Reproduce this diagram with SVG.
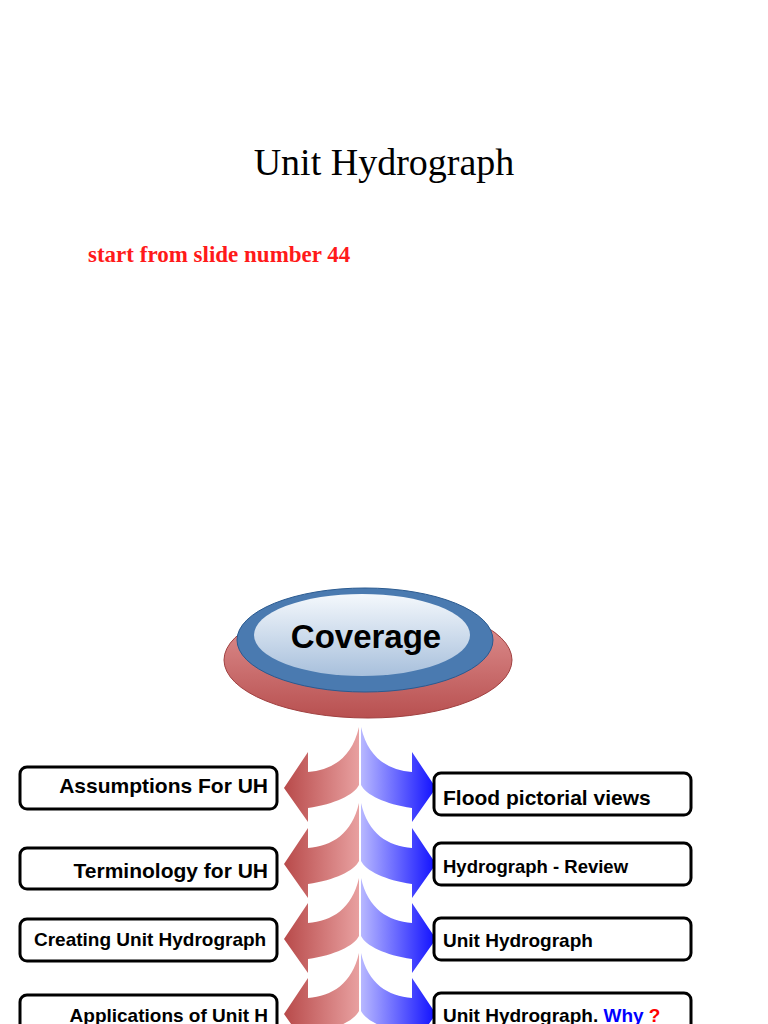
<svg xmlns="http://www.w3.org/2000/svg" width="768" height="1024" viewBox="0 0 768 1024">
<defs>
<linearGradient id="rg" x1="1" y1="0" x2="0" y2="0"><stop offset="0" stop-color="#e8a0a0"/><stop offset="1" stop-color="#b84a4a"/></linearGradient>
<linearGradient id="bg" x1="0" y1="0" x2="1" y2="0"><stop offset="0" stop-color="#b8b8ff"/><stop offset="1" stop-color="#1010ff"/></linearGradient>
<linearGradient id="eg" x1="0" y1="0" x2="0" y2="1"><stop offset="0" stop-color="#e49a9a"/><stop offset="1" stop-color="#b85050"/></linearGradient>
<linearGradient id="ig" x1="0" y1="0" x2="0" y2="1"><stop offset="0" stop-color="#f4f8fc"/><stop offset="1" stop-color="#a8c0dc"/></linearGradient>
<path id="la" d="M359,727 C352,758 332,770 308,772 L308,752 L284,788 L308,822 L308,808 C335,804 354,795 359,785 Z" fill="url(#rg)"/>
<path id="ra" d="M361,727 C368,758 388,770 412,772 L412,752 L436,788 L412,822 L412,808 C385,804 366,795 361,785 Z" fill="url(#bg)"/>
</defs>
<style>
.box{fill:#fff;stroke:#000;stroke-width:3}
.t{font-family:"Liberation Sans",Arial,sans-serif;font-weight:bold;fill:#000}
</style>
<rect width="768" height="1024" fill="#fff"/>
<text x="384" y="175" text-anchor="middle" font-family="'Liberation Serif',serif" font-size="38">Unit Hydrograph</text>
<text x="88" y="262" font-family="'Liberation Serif',serif" font-weight="bold" font-size="23" fill="#ff1a1a">start from slide number 44</text>
<g id="coverage">
<ellipse cx="368" cy="660" rx="144" ry="58" fill="url(#eg)" stroke="#a04040"/>
<ellipse cx="365" cy="640" rx="128" ry="52" fill="#4a7ab0" stroke="#2a5a90"/>
<ellipse cx="362" cy="635" rx="108" ry="41" fill="url(#ig)"/>
<text x="366" y="648" text-anchor="middle" class="t" font-size="33">Coverage</text>
</g>
<g id="connectors">
<use href="#la"/><use href="#la" y="76"/><use href="#la" y="151"/><use href="#la" y="226"/>
<use href="#ra"/><use href="#ra" y="76"/><use href="#ra" y="151"/><use href="#ra" y="226"/>
</g>
<g id="l1"><rect class="box" x="20" y="767" width="257" height="42" rx="7"/><text class="t" x="268" y="793" text-anchor="end" font-size="21">Assumptions For UH</text></g>
<g id="l2"><rect class="box" x="20" y="848" width="257" height="41" rx="7"/><text class="t" x="268" y="878" text-anchor="end" font-size="21">Terminology for UH</text></g>
<g id="l3"><rect class="box" x="20" y="919" width="257" height="42" rx="7"/><text class="t" x="34" y="946" font-size="19">Creating Unit Hydrograph</text></g>
<g id="l4"><rect class="box" x="20" y="995" width="257" height="42" rx="7"/><text class="t" x="268" y="1022" text-anchor="end" font-size="19">Applications of Unit H</text></g>
<g id="r1"><rect class="box" x="434" y="773" width="257" height="42" rx="7"/><text class="t" x="443" y="805" font-size="21">Flood pictorial views</text></g>
<g id="r2"><rect class="box" x="434" y="843" width="257" height="42" rx="7"/><text class="t" x="443" y="873" font-size="18.5">Hydrograph - Review</text></g>
<g id="r3"><rect class="box" x="434" y="918" width="257" height="42" rx="7"/><text class="t" x="443" y="947" font-size="19">Unit Hydrograph</text></g>
<g id="r4"><rect class="box" x="434" y="993" width="257" height="42" rx="7"/><text class="t" x="443" y="1022" font-size="19">Unit Hydrograph. <tspan fill="#0000ff">Why</tspan> <tspan fill="#ff0000">?</tspan></text></g>
</svg>
